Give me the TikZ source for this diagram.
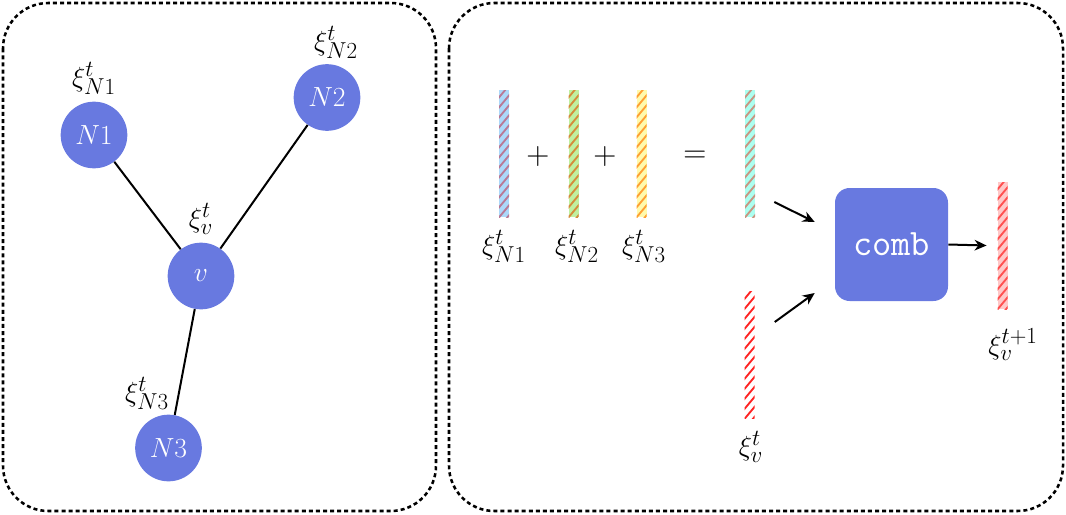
\documentclass[tikz,border=0pt]{standalone}
\usepackage{fontspec}
\usetikzlibrary{arrows.meta}
\DeclareMathSizes{21}{21}{16}{13}
\definecolor{nodeblue}{RGB}{104,121,224}
\definecolor{fillA}{RGB}{172,216,250}
\definecolor{strA}{RGB}{185,120,150}
\definecolor{fillB}{RGB}{192,240,160}
\definecolor{strB}{RGB}{212,140,60}
\definecolor{fillC}{RGB}{255,250,172}
\definecolor{strC}{RGB}{255,160,50}
\definecolor{fillD}{RGB}{172,255,240}
\definecolor{strD}{RGB}{200,150,130}
\definecolor{strE}{RGB}{255,35,35}
\definecolor{fillF}{RGB}{255,200,200}
\definecolor{strF}{RGB}{255,80,80}
\begin{document}
\begin{tikzpicture}[x=0.75pt,y=-0.75pt,
  panel/.style={draw, line width=1.9pt, dash pattern=on 3pt off 2.3pt, rounded corners=34pt},
  gnode/.style={circle, fill=nodeblue, minimum size=50pt, inner sep=0pt, text=white, font=\fontsize{20}{24}\selectfont},
  lbl/.style={font=\fontsize{21}{25}\selectfont, inner sep=0pt},
  opsym/.style={font=\fontsize{24}{28}\selectfont, inner sep=0pt},
  edgeline/.style={line width=1.5pt},
  arr/.style={line width=1.5pt, -{Stealth[length=9pt,width=8pt]}},
  hbarbox/.style n args={2}{rectangle, inner sep=0pt, minimum width=7.5pt, minimum height=95.25pt, fill=#1,
    path picture={
      \foreach \k in {-1,...,15}{
        \draw[#2, line width=1.4pt] (path picture bounding box.south west) ++(-3,-\k*10+4) -- ++(16,-19.2);
      }
    }},
  combbox/.style={rectangle, rounded corners=11pt, fill=nodeblue, minimum width=84.75pt, minimum height=84.75pt,
    text=white, font=\ttfamily\fontsize{28}{32}\selectfont}]
\useasboundingbox (0,0) rectangle (1066,514);
% panels
\path[panel] (3,3) rectangle (436,511);
\path[panel] (449,3) rectangle (1063,511);
% left graph
\node[gnode] (n1) at (94,135) {$N1$};
\node[gnode] (n2) at (327,97.5) {$N2$};
\node[gnode] (v) at (201,276) {$v$};
\node[gnode] (n3) at (168.5,448) {$N3$};
\draw[edgeline] (n1) -- (v);
\draw[edgeline] (n2) -- (v);
\draw[edgeline] (v) -- (n3);
\node[lbl] (l1) at (94,78) {$\xi^t_{N1}$};
\node[lbl] (l2) at (336,42) {$\xi^t_{N2}$};
\node[lbl] (lv) at (201,219) {$\xi^t_v$};
\node[lbl] (l3) at (147,393) {$\xi^t_{N3}$};
% right panel bars
\node[hbarbox={fillA}{strA}] (b1) at (504,153.5) {};
\node[hbarbox={fillB}{strB}] (b2) at (573.5,153.5) {};
\node[hbarbox={fillC}{strC}] (b3) at (641.5,153.5) {};
\node[hbarbox={fillD}{strD}] (b4) at (750,153.5) {};
\node[hbarbox={white}{strE}] (bv) at (749.5,355) {};
\node[hbarbox={fillF}{strF}] (bo) at (1002.5,245.5) {};
\node[opsym] (p1) at (538,157) {+};
\node[opsym] (p2) at (605,157) {+};
\node[opsym] (eq) at (695,157) {=};
\node[lbl] (r1) at (504,246) {$\xi^t_{N1}$};
\node[lbl] (r2) at (577,246) {$\xi^t_{N2}$};
\node[lbl] (r3) at (644,246) {$\xi^t_{N3}$};
\node[lbl] (rv) at (751,447) {$\xi^t_v$};
\node[lbl] (ro) at (1013,345) {$\xi^{t+1}_v$};
\node[combbox] (comb) at (891.5,244.5) {comb};
\draw[arr] ([shift={(19,48.5)}]b4.east) -- ([shift={(-20,-22.5)}]comb.west);
\draw[arr] ([shift={(20,-33)}]bv.east) -- ([shift={(-20,48.5)}]comb.west);
\draw[arr] (comb.east) -- ([xshift=-8pt]bo.west);
\end{tikzpicture}
\end{document}
